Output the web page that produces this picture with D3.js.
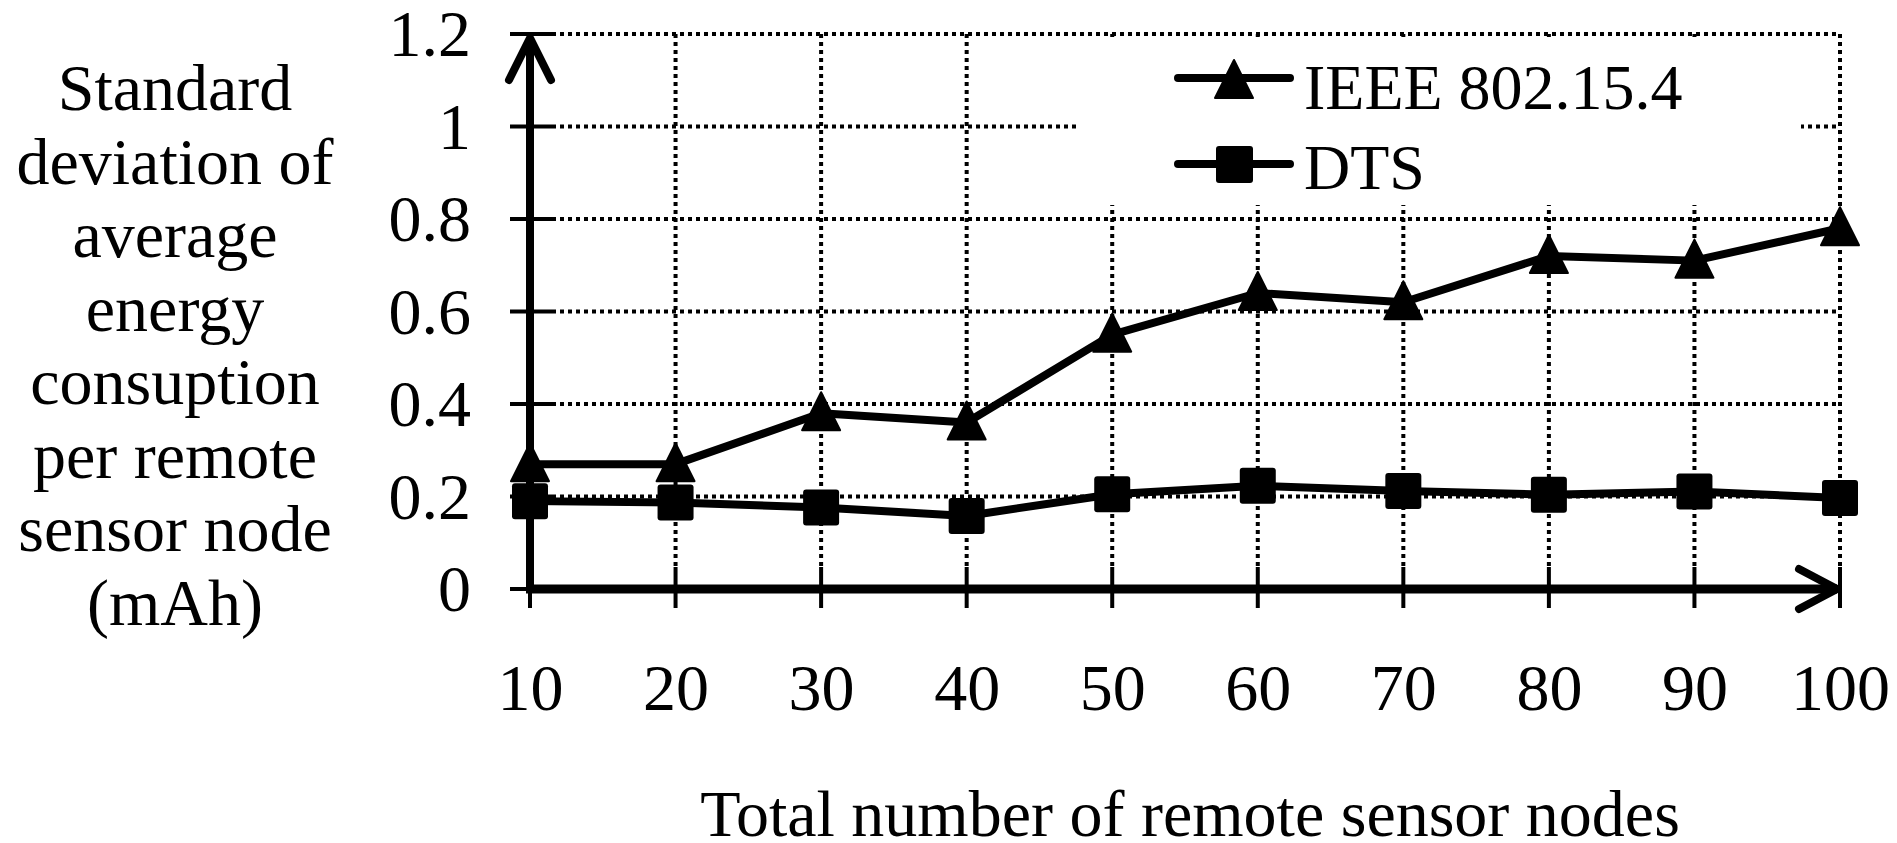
<!DOCTYPE html>
<html>
<head>
<meta charset="utf-8">
<script src="https://cdn.jsdelivr.net/npm/d3@7/dist/d3.min.js"></script>
<style>
  html, body { margin: 0; padding: 0; background: #fff; }
  svg { display: block; }
  text { font-family: "Liberation Serif", "Times New Roman", serif; fill: #000; }
</style>
</head>
<body>
<svg id="chart" width="1897" height="843"></svg>
<script>
// ---- data ----
const nodes = [10, 20, 30, 40, 50, 60, 70, 80, 90, 100];
const ieee = [0.27, 0.27, 0.38, 0.36, 0.55, 0.64, 0.62, 0.72, 0.71, 0.78];
const dts  = [0.19, 0.187, 0.176, 0.158, 0.205, 0.223, 0.212, 0.204, 0.211, 0.197];
const yTicks = [0, 0.2, 0.4, 0.6, 0.8, 1, 1.2];
const seriesNames = ["IEEE 802.15.4", "DTS"];
const yTitle = ["Standard", "deviation of", "average", "energy", "consuption", "per remote", "sensor node", "(mAh)"];
const xTitle = "Total number of remote sensor nodes";

const svg = d3.select("#chart");
const x = d3.scaleLinear().domain([10, 100]).range([530, 1840]);
const y = d3.scaleLinear().domain([0, 1.2]).range([589, 34]);
const FS = 66;

// ---- gridlines ----
const grid = svg.append("g").attr("stroke", "#000").attr("stroke-width", 4).attr("stroke-dasharray", "4,4");
grid.selectAll("line.h").data(yTicks.filter(d => d > 0)).join("line")
  .attr("class", "h")
  .attr("x1", x(10) + 22).attr("x2", x(100))
  .attr("y1", d => y(d)).attr("y2", d => y(d));
grid.selectAll("line.v").data(nodes.filter(d => d > 10)).join("line")
  .attr("class", "v")
  .attr("x1", d => x(d)).attr("x2", d => x(d))
  .attr("y1", y(1.2)).attr("y2", y(0) - 22);

// ---- legend background (covers grid) ----
svg.append("rect").attr("x", 1079).attr("y", 37).attr("width", 722).attr("height", 168).attr("fill", "#fff");

// ---- tick marks ----
const ticks = svg.append("g").attr("stroke", "#000").attr("stroke-width", 4);
ticks.selectAll("line.yt").data(yTicks).join("line")
  .attr("x1", x(10) - 20).attr("x2", x(10) + 22)
  .attr("y1", d => y(d)).attr("y2", d => y(d));
ticks.selectAll("line.xt").data(nodes).join("line")
  .attr("x1", d => x(d)).attr("x2", d => x(d))
  .attr("y1", y(0) - 22).attr("y2", y(0) + 19);

// ---- axes with arrows ----
const ax = svg.append("g").attr("stroke", "#000").attr("stroke-width", 8).attr("fill", "none")
  .attr("stroke-linecap", "round").attr("stroke-linejoin", "round");
ax.append("line").attr("x1", x(10)).attr("x2", x(10)).attr("y1", y(0) + 4).attr("y2", y(1.2) + 4).attr("stroke-linecap", "butt");
ax.append("path").attr("d", `M${x(10) - 21},${y(1.2) + 46} L${x(10)},${y(1.2) + 4} L${x(10) + 21},${y(1.2) + 46}`);
ax.append("line").attr("x1", x(10) - 4).attr("x2", x(100) - 3).attr("y1", y(0)).attr("y2", y(0)).attr("stroke-linecap", "butt").attr("stroke-width", 9);
ax.append("path").attr("d", `M${x(100) - 41},${y(0) - 20} L${x(100) - 3},${y(0)} L${x(100) - 41},${y(0) + 20}`);

// ---- tick labels via d3 axes ----
const xAxis = svg.append("g").attr("transform", `translate(0,${y(0)})`)
  .call(d3.axisBottom(x).tickValues(nodes).tickSize(0).tickFormat(d3.format("d")));
xAxis.select(".domain").remove();
xAxis.selectAll("text").attr("font-size", FS).attr("font-family", "Liberation Serif").attr("dy", 0).attr("y", 121);

const yAxis = svg.append("g").attr("transform", `translate(${x(10)},0)`)
  .call(d3.axisLeft(y).tickValues(yTicks).tickSize(0).tickPadding(59).tickFormat(d => d3.format("")(d)));
yAxis.select(".domain").remove();
yAxis.selectAll("text").attr("font-size", FS).attr("font-family", "Liberation Serif").attr("dy", "0.33em");

// ---- series ----
const lineGen = d3.line().x((d, i) => x(nodes[i])).y(d => y(d));
const triPath = "M0,-21 L19,17 L-19,17 Z";
function drawSeries(vals, marker) {
  svg.append("path").datum(vals).attr("d", lineGen)
    .attr("fill", "none").attr("stroke", "#000").attr("stroke-width", 8).attr("stroke-linejoin", "round");
  const g = svg.append("g");
  if (marker === "tri") {
    g.selectAll("path").data(vals).join("path")
      .attr("d", triPath)
      .attr("transform", (d, i) => `translate(${x(nodes[i])},${y(d)})`)
      .attr("fill", "#000").attr("stroke", "#000").attr("stroke-width", 2).attr("stroke-linejoin", "round");
  } else {
    g.selectAll("rect").data(vals).join("rect")
      .attr("x", (d, i) => x(nodes[i]) - 18).attr("y", d => y(d) - 18)
      .attr("width", 36).attr("height", 36).attr("rx", 3)
      .attr("fill", "#000");
  }
}
drawSeries(ieee, "tri");
drawSeries(dts, "sq");

// ---- legend ----
const leg = svg.append("g");
const legRows = [{ name: seriesNames[0], m: "tri", ly: 78, ty: 109 }, { name: seriesNames[1], m: "sq", ly: 164, ty: 189 }];
legRows.forEach(r => {
  leg.append("line").attr("x1", 1178).attr("x2", 1290).attr("y1", r.ly).attr("y2", r.ly)
    .attr("stroke", "#000").attr("stroke-width", 8).attr("stroke-linecap", "round");
  if (r.m === "tri") {
    leg.append("path").attr("d", triPath).attr("transform", `translate(1234,${r.ly + 3})`)
      .attr("fill", "#000").attr("stroke", "#000").attr("stroke-width", 2).attr("stroke-linejoin", "round");
  } else {
    leg.append("rect").attr("x", 1216).attr("y", r.ly - 18).attr("width", 37).attr("height", 37).attr("rx", 3).attr("fill", "#000");
  }
  leg.append("text").attr("x", 1304).attr("y", r.ty).attr("font-size", 64).text(r.name);
});

// ---- titles ----
svg.append("text").attr("x", 1190).attr("y", 836).attr("text-anchor", "middle").attr("font-size", FS).text(xTitle);
const yt = svg.append("text").attr("text-anchor", "middle").attr("font-size", FS);
yTitle.forEach((t, i) => {
  yt.append("tspan").attr("x", 175).attr("y", 110 + i * 73.5).text(t);
});
</script>
</body>
</html>
